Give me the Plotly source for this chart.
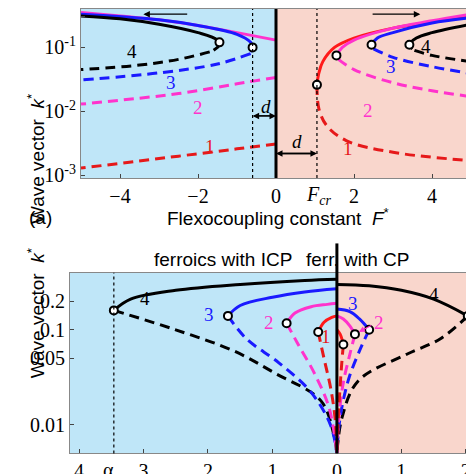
import plotly.graph_objects as go
import math

# ---------- panel (a): k* vs F* ----------
a_solid = {
    "magL": ([0, -1, -2, -3, -4, -5], [0.13, 0.17, 0.22, 0.27, 0.31, 0.35], "#ff33cc"),
    "bluL": ([-0.65, -0.6, -0.65, -1, -2, -3, -5], [0.085, 0.1, 0.12, 0.16, 0.22, 0.27, 0.33], "#1a1aff"),
    "blkL": ([-1.6, -1.45, -1.5, -2, -3, -4, -5], [0.09, 0.11, 0.13, 0.17, 0.23, 0.28, 0.31], "black"),
    "redR": ([1.05, 1.1, 1.2, 1.5, 2, 3, 4, 5], [0.026, 0.04, 0.06, 0.1, 0.14, 0.2, 0.25, 0.3], "#ff1a1a"),
    "magR": ([1.55, 1.7, 2, 3, 4, 5], [0.075, 0.1, 0.13, 0.2, 0.26, 0.33], "#ff33cc"),
    "bluR": ([2.45, 2.6, 3, 4, 5], [0.11, 0.14, 0.17, 0.24, 0.29], "#1a1aff"),
    "blkR": ([3.5, 3.42, 3.6, 4, 5], [0.095, 0.11, 0.14, 0.17, 0.23], "black"),
}
a_dash = {
    "blkL": ([-1.7, -2.5, -3.5, -5], [0.085, 0.065, 0.053, 0.045], "black"),
    "bluL": ([-0.65, -1.5, -3, -5], [0.08, 0.055, 0.04, 0.031], "#1a1aff"),
    "magL": ([0, -1, -2.5, -5], [0.034, 0.027, 0.019, 0.013], "#ff33cc"),
    "redL": ([0, -1, -2.5, -5], [0.0031, 0.0026, 0.002, 0.0013], "#e6191a"),
    "redR": ([1.05, 1.1, 1.3, 1.8, 3, 5], [0.026, 0.011, 0.006, 0.0035, 0.0023, 0.0017], "#e6191a"),
    "magR": ([1.6, 2, 3, 4, 5], [0.065, 0.045, 0.028, 0.021, 0.017], "#ff33cc"),
    "bluR": ([2.5, 3, 4, 5], [0.095, 0.07, 0.05, 0.039], "#1a1aff"),
    "blkR": ([3.55, 4, 5], [0.09, 0.075, 0.06], "black"),
}
a_pts_x = [-1.45, -0.6, 1.05, 1.55, 2.45, 3.42]
a_pts_y = [0.12, 0.1, 0.026, 0.075, 0.11, 0.11]

# ---------- panel (b): k* vs alpha ----------
b_solid = {
    "blkL": ([-3.46, -3.2, -2.5, -1.5, -0.5, 0], [0.16, 0.21, 0.26, 0.3, 0.33, 0.34], "black"),
    "bluL": ([-1.69, -1.5, -1, -0.5, 0], [0.14, 0.18, 0.22, 0.25, 0.27], "#1a1aff"),
    "magL": ([-0.78, -0.65, -0.4, -0.15, 0], [0.117, 0.15, 0.175, 0.185, 0.19], "#ff33cc"),
    "redL": ([-0.29, -0.2, -0.08, 0], [0.095, 0.12, 0.135, 0.14], "#ff1a1a"),
    "blkR": ([0, 0.5, 1.0, 1.5, 2.03], [0.3, 0.29, 0.26, 0.21, 0.14], "black"),
    "bluR": ([0, 0.2, 0.35, 0.5], [0.165, 0.155, 0.13, 0.1], "#1a1aff"),
    "magR": ([0, 0.1, 0.2, 0.28], [0.14, 0.13, 0.11, 0.09], "#ff33cc"),
    "redR": ([0, 0.05, 0.1], [0.1, 0.09, 0.07], "#ff1a1a"),
}
b_dash = {
    "blkL": ([-3.46, -2.5, -1.6, -0.96, -0.25, -0.05, 0], [0.16, 0.1, 0.06, 0.035, 0.018, 0.008, 0.005], "black"),
    "bluL": ([-1.69, -1.4, -0.9, -0.4, -0.1, 0], [0.14, 0.08, 0.045, 0.022, 0.01, 0.005], "#1a1aff"),
    "magL": ([-0.78, -0.6, -0.35, -0.12, 0], [0.117, 0.07, 0.035, 0.015, 0.005], "#ff33cc"),
    "redL": ([-0.29, -0.2, -0.1, -0.03, 0], [0.095, 0.05, 0.025, 0.012, 0.005], "#e6191a"),
    "blkR": ([2.03, 1.6, 1.1, 0.33, 0.08, 0], [0.14, 0.08, 0.056, 0.029, 0.012, 0.005], "black"),
    "bluR": ([0.5, 0.35, 0.18, 0.05, 0], [0.1, 0.06, 0.03, 0.012, 0.005], "#1a1aff"),
    "magR": ([0.28, 0.2, 0.1, 0.03, 0], [0.09, 0.055, 0.028, 0.012, 0.005], "#ff33cc"),
    "redR": ([0.1, 0.07, 0.03, 0], [0.07, 0.04, 0.015, 0.005], "#e6191a"),
}
b_pts_x = [-3.46, -1.69, -0.78, -0.29, 0.1, 0.28, 0.5, 2.03]
b_pts_y = [0.16, 0.14, 0.117, 0.095, 0.07, 0.09, 0.1, 0.14]

a_ytick_vals = [0.001, 0.01, 0.1, 0.3]
a_ytick_text = ["10<sup>-3</sup>", "10<sup>-2</sup>", "10<sup>-1</sup>", "0.3"]
a_xtick_vals = [-4, -2, 0, 2, 4]
a_xtick_text = ["\u22124", "\u22122", "0", "2", "4"]
b_ytick_vals = [0.01, 0.05, 0.1, 0.2]
b_ytick_text = ["0.01", "0.05", "0.1", "0.2"]
b_xtick_vals = [-4, -3, -2, -1, 0, 1, 2]
b_xtick_text = ["4", "3", "2", "1", "0", "1", "2"]

fig = go.Figure()
for d, dash, xa, ya in [(a_solid, "solid", "x", "y"), (a_dash, "10px,6px", "x", "y"),
                        (b_solid, "solid", "x2", "y2"), (b_dash, "10px,6px", "x2", "y2")]:
    for k, (xs, ys, c) in d.items():
        fig.add_trace(go.Scatter(x=xs, y=ys, mode="lines", xaxis=xa, yaxis=ya,
                                 line=dict(color=c, width=3, dash=dash, shape="spline"),
                                 showlegend=False, hoverinfo="skip"))
fig.add_trace(go.Scatter(x=a_pts_x, y=a_pts_y, mode="markers", xaxis="x", yaxis="y",
                         marker=dict(color="white", size=8, line=dict(color="black", width=2)), showlegend=False))
fig.add_trace(go.Scatter(x=b_pts_x, y=b_pts_y, mode="markers", xaxis="x2", yaxis="y2",
                         marker=dict(color="white", size=8, line=dict(color="black", width=2)), showlegend=False))

BLUE, PINK = "#bfe6f8", "#f9d6cc"
shapes = [
    dict(type="rect", xref="x", yref="y domain", x0=-5, x1=0, y0=0, y1=1, fillcolor=BLUE, line_width=0, layer="below"),
    dict(type="rect", xref="x", yref="y domain", x0=0, x1=5, y0=0, y1=1, fillcolor=PINK, line_width=0, layer="below"),
    dict(type="rect", xref="x2", yref="y2 domain", x0=-4.14, x1=0, y0=0, y1=1, fillcolor=BLUE, line_width=0, layer="below"),
    dict(type="rect", xref="x2", yref="y2 domain", x0=0, x1=2.08, y0=0, y1=1, fillcolor=PINK, line_width=0, layer="below"),
    dict(type="line", xref="x", yref="y domain", x0=0, x1=0, y0=0, y1=1, line=dict(color="black", width=3)),
    dict(type="line", xref="x", yref="y domain", x0=-0.6, x1=-0.6, y0=0, y1=1, line=dict(color="black", width=1.2, dash="dot")),
    dict(type="line", xref="x", yref="y domain", x0=1.05, x1=1.05, y0=0, y1=1, line=dict(color="black", width=1.2, dash="dot")),
    dict(type="line", xref="x2", yref="paper", x0=0, x1=0, y0=0.04, y1=1 - 240 / 474, line=dict(color="black", width=3)),
    dict(type="line", xref="x2", yref="y2 domain", x0=-3.46, x1=-3.46, y0=0, y1=1, line=dict(color="black", width=1.2, dash="dot")),
]

ann = []
def arrow(x0, x1, y, xr="x", yr="y"):
    ann.append(dict(x=x1, y=y, ax=x0, ay=y, xref=xr, yref=yr, axref=xr, ayref=yr, text=" ",
                    font=dict(size=10), showarrow=True, arrowhead=2, arrowsize=1, arrowwidth=1.3,
                    arrowcolor="black"))
arrow(-0.6, 0, math.log10(0.0085))
arrow(0, -0.6, math.log10(0.0085))
arrow(0, 1.05, math.log10(0.0022))
arrow(1.05, 0, math.log10(0.0022))
arrow(-2.2, -3.4, math.log10(0.33))
arrow(2.4, 3.7, math.log10(0.33))

TF = "Liberation Serif"
def lab(x, y, t, c, xr="x", yr="y", size=19):
    ann.append(dict(x=x, y=math.log10(y), xref=xr, yref=yr, text=t, showarrow=False,
                    font=dict(family=TF, size=size, color=c)))
lab(-3.7, 0.085, "4", "black"); lab(-2.7, 0.028, "3", "#1a1aff"); lab(-2.0, 0.0115, "2", "#ff33cc")
lab(-1.7, 0.0028, "1", "#e6191a"); lab(3.85, 0.105, "4", "black"); lab(2.95, 0.05, "3", "#1a1aff")
lab(2.35, 0.0105, "2", "#ff33cc"); lab(1.85, 0.0026, "1", "#e6191a")
lab(-0.25, 0.012, "<i>d</i>", "black"); lab(0.55, 0.0034, "<i>d</i>", "black")
lab(-2.97, 0.215, "4", "black", "x2", "y2"); lab(-1.98, 0.145, "3", "#1a1aff", "x2", "y2")
lab(-1.05, 0.12, "2", "#ff33cc", "x2", "y2"); lab(-0.17, 0.085, "1", "#e6191a", "x2", "y2")
lab(0.25, 0.19, "3", "#1a1aff", "x2", "y2"); lab(1.5, 0.235, "4", "black", "x2", "y2")
lab(0.65, 0.12, "2", "#ff33cc", "x2", "y2")
ann.append(dict(x=0.34, y=math.log10(0.095), ax=0.58, ay=math.log10(0.115), xref="x2", yref="y2",
                axref="x2", ayref="y2", text=" ", font=dict(size=10), showarrow=True, arrowhead=2,
                arrowwidth=1.2, arrowcolor="#ff33cc"))
ann.append(dict(x=1.1, y=-0.02, xref="x", yref="y domain", yanchor="top", showarrow=False,
                text="<i>F<sub>cr</sub></i>", font=dict(family=TF, size=20, color="black")))
ann.append(dict(x=-3.46, y=-0.02, xref="x2", yref="y2 domain", yanchor="top", showarrow=False,
                text="\u03b1<sub>cr</sub>", font=dict(family=TF, size=20, color="black")))
SF = "Liberation Sans"
ann.append(dict(x=14 / 474, y=1 - 85 / 474, xref="paper", yref="paper", textangle=-90, showarrow=False,
                text="Wave vector  <i>k</i><sup>*</sup>", font=dict(family=SF, size=19, color="black")))
ann.append(dict(x=14 / 474, y=1 - 380 / 474, xref="paper", yref="paper", textangle=-90, showarrow=False,
                text="Wave vector  <i>k</i><sup>*</sup>", font=dict(family=SF, size=19, color="black")))
ann.append(dict(x=270 / 474, y=1 - 213 / 474, xref="paper", yref="paper", showarrow=False,
                text="Flexocoupling constant  <i>F</i><sup>*</sup>", font=dict(family=SF, size=19, color="black")))
ann.append(dict(x=19 / 474, y=1 - 213 / 474, xref="paper", yref="paper", showarrow=False,
                text="(a)", font=dict(family=SF, size=19, color="black")))
ann.append(dict(x=215 / 474, y=1 - 256 / 474, xref="paper", yref="paper", showarrow=False,
                text="ferroics with ICP", font=dict(family=SF, size=19, color="black")))
ann.append(dict(x=403 / 474, y=1 - 256 / 474, xref="paper", yref="paper", showarrow=False,
                text="ferr. with CP", font=dict(family=SF, size=19, color="black")))

ax_common = dict(showgrid=False, zeroline=False, showline=True, linecolor="#888", mirror=True,
                 ticks="inside", ticklen=4, tickcolor="#444", tickfont=dict(family=TF, size=20, color="black"))
fig.update_layout(
    width=474, height=474, margin=dict(l=0, r=0, t=0, b=0),
    paper_bgcolor="white", plot_bgcolor="white", showlegend=False,
    xaxis=dict(domain=[73 / 474, 463 / 474], anchor="y", range=[-5, 5], tickvals=a_xtick_vals,
               ticktext=a_xtick_text, **ax_common),
    yaxis=dict(domain=[1 - 173 / 474, 1], anchor="x", type="log", range=[-3.04, -0.4],
               tickvals=a_ytick_vals, ticktext=a_ytick_text, **ax_common),
    xaxis2=dict(domain=[62 / 474, 463 / 474], anchor="y2", range=[-4.14, 2.08], tickvals=b_xtick_vals,
                ticktext=b_xtick_text, **ax_common),
    yaxis2=dict(domain=[1 - 455 / 474, 1 - 270 / 474], anchor="x2", type="log", range=[-2.3, -0.4],
                tickvals=b_ytick_vals, ticktext=b_ytick_text, **ax_common),
    shapes=shapes, annotations=ann,
)
fig.write_html("out.html")
